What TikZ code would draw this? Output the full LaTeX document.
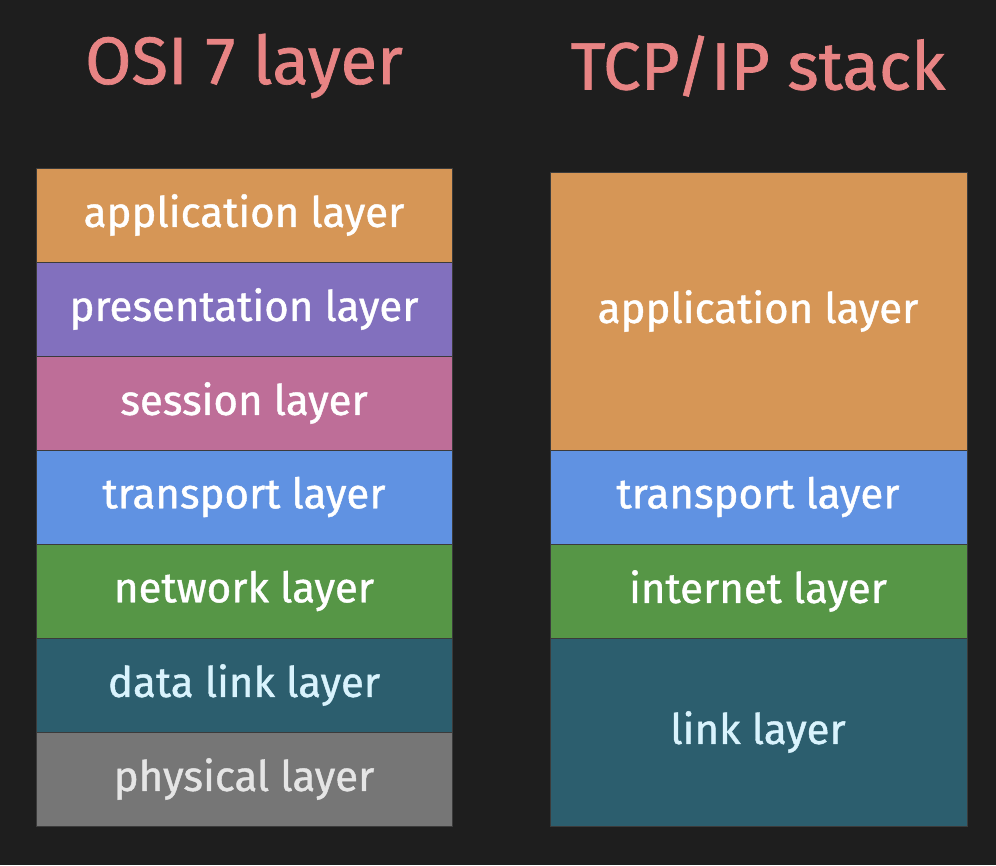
\documentclass[tikz,border=0pt]{standalone}
\usepackage{fontspec}
\setmainfont{Fira Sans}
\newfontfamily\medfont{Fira Sans}[FakeBold=1.0]
\definecolor{bg}{RGB}{30,30,30}
\definecolor{corange}{RGB}{214,150,86}
\definecolor{cpurple}{RGB}{130,112,190}
\definecolor{cpink}{RGB}{190,110,152}
\definecolor{cblue}{RGB}{96,146,226}
\definecolor{cgreen}{RGB}{86,150,70}
\definecolor{cteal}{RGB}{44,94,110}
\definecolor{cgray}{RGB}{118,118,118}
\definecolor{ctitle}{RGB}{232,132,132}
\begin{document}
\begin{tikzpicture}[x=1pt,y=-1pt,
  lay/.style={draw=bg!70!gray,line width=1pt,fill=#1},
  lab/.style={text=white,font=\medfont\fontsize{42}{46}\selectfont},
  ttl/.style={text=ctitle,font=\medfont\fontsize{67}{70}\selectfont}]
\fill[bg] (0,0) rectangle (996,865);
\useasboundingbox (0,0) rectangle (996,865);
\node[ttl] (t1) at (244,66) {OSI 7 layer};
\node[ttl] (t2) at (758,66) {TCP/IP stack};
\foreach \a/\b/\c/\t/\tc [count=\i] in {168/262/corange/application layer/white,
 262/356/cpurple/presentation layer/white,356/450/cpink/session layer/white,
 450/544/cblue/transport layer/white,544/638/cgreen/network layer/white,
 638/732/cteal/data link layer/white!85!cyan,732/826/cgray/physical layer/white!80!gray}{
 \draw[lay=\c] (36,\a) rectangle (452,\b);
 \node[lab,text=\tc] (l\i) at (244,{(\a+\b)/2}) {\t};
}
\foreach \a/\b/\c/\t/\tc [count=\i] in {172/450/corange/application layer/white,
 450/544/cblue/transport layer/white,544/638/cgreen/internet layer/white,
 638/826/cteal/link layer/white!85!cyan}{
 \draw[lay=\c] (550,\a) rectangle (967,\b);
 \node[lab,text=\tc] (r\i) at (758,{(\a+\b)/2}) {\t};
}
\end{tikzpicture}
\end{document}
